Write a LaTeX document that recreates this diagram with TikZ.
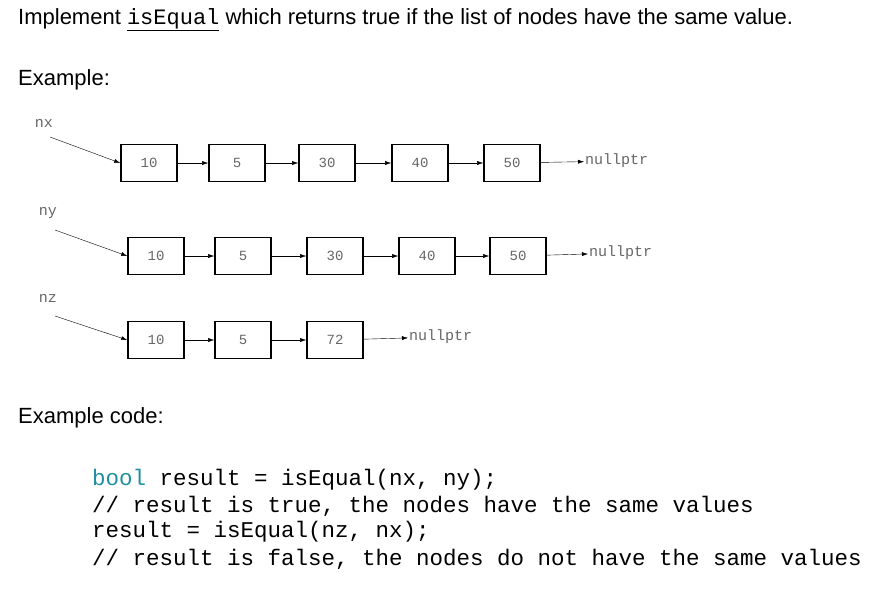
\documentclass[tikz,border=0pt]{standalone}
\usepackage{fontspec}
\setmainfont{Liberation Sans}
\setmonofont{Liberation Mono}
\usetikzlibrary{arrows.meta}
\definecolor{kw}{HTML}{1E8FA0}
\definecolor{lbl}{HTML}{666666}
\begin{document}
\begin{tikzpicture}[x=1pt,y=-1pt,
  cell/.style={draw,line width=1.6pt,minimum width=56pt,minimum height=37pt,inner sep=0pt,font=\ttfamily\fontsize{14}{14}\selectfont,text=lbl},
  link/.style={-{Latex[length=6pt,width=4pt]},thin},
  vname/.style={font=\ttfamily\fontsize{15}{15}\selectfont,text=lbl},
  txt/.style={anchor=west,font=\fontsize{22}{26}\selectfont,inner sep=0pt},
  code/.style={anchor=west,font=\ttfamily\fontsize{22.5}{26}\selectfont,inner sep=0pt}]
\useasboundingbox (0,0) rectangle (873,600);
\node[txt] (title) at (18,20) {Implement \underline{\texttt{isEqual}} which returns true if the list of nodes have the same value.};
\node[txt] (ex) at (18,80) {Example:};
% row 1
\node[vname] (nx) at (44,123) {nx};
\coordinate (nxs) at (50,137);
\foreach \v/\x [count=\i] in {10/149,5/237,30/327,40/420,50/512}
  \node[cell] (a\i) at (\x,163) {\v};
\node[vname,anchor=west,inner sep=1pt] (an) at (584,161) {nullptr};
\draw[link] (nxs) -- (a1.west);
\foreach \i/\j in {1/2,2/3,3/4,4/5} \draw[link] (a\i) -- (a\j);
\draw[link] (a5) -- (an);
% row 2
\node[vname] (ny) at (48,213) {ny};
\coordinate (nys) at (55,230);
\foreach \v/\x [count=\i] in {10/156,5/243,30/335,40/427,50/518}
  \node[cell] (b\i) at (\x,256) {\v};
\node[vname,anchor=west,inner sep=1pt] (bn) at (588,253) {nullptr};
\draw[link] (nys) -- (b1.west);
\foreach \i/\j in {1/2,2/3,3/4,4/5} \draw[link] (b\i) -- (b\j);
\draw[link] (b5) -- (bn);
% row 3
\node[vname] (nz) at (48,298) {nz};
\coordinate (nzs) at (55,316);
\foreach \v/\x [count=\i] in {10/156,5/243,72/335}
  \node[cell] (c\i) at (\x,340) {\v};
\node[vname,anchor=west,inner sep=1pt] (cn) at (408,337) {nullptr};
\draw[link] (nzs) -- (c1.west);
\foreach \i/\j in {1/2,2/3} \draw[link] (c\i) -- (c\j);
\draw[link] (c3) -- (cn);
% code
\node[txt] (exc) at (18,418) {Example code:};
\node[code] (l1) at (92,480) {\textcolor{kw}{bool} result = isEqual(nx, ny);};
\node[code] (l2) at (92,506) {// result is true, the nodes have the same values};
\node[code] (l3) at (92,532) {result = isEqual(nz, nx);};
\node[code] (l4) at (92,559) {// result is false, the nodes do not have the same values};
\end{tikzpicture}
\end{document}
